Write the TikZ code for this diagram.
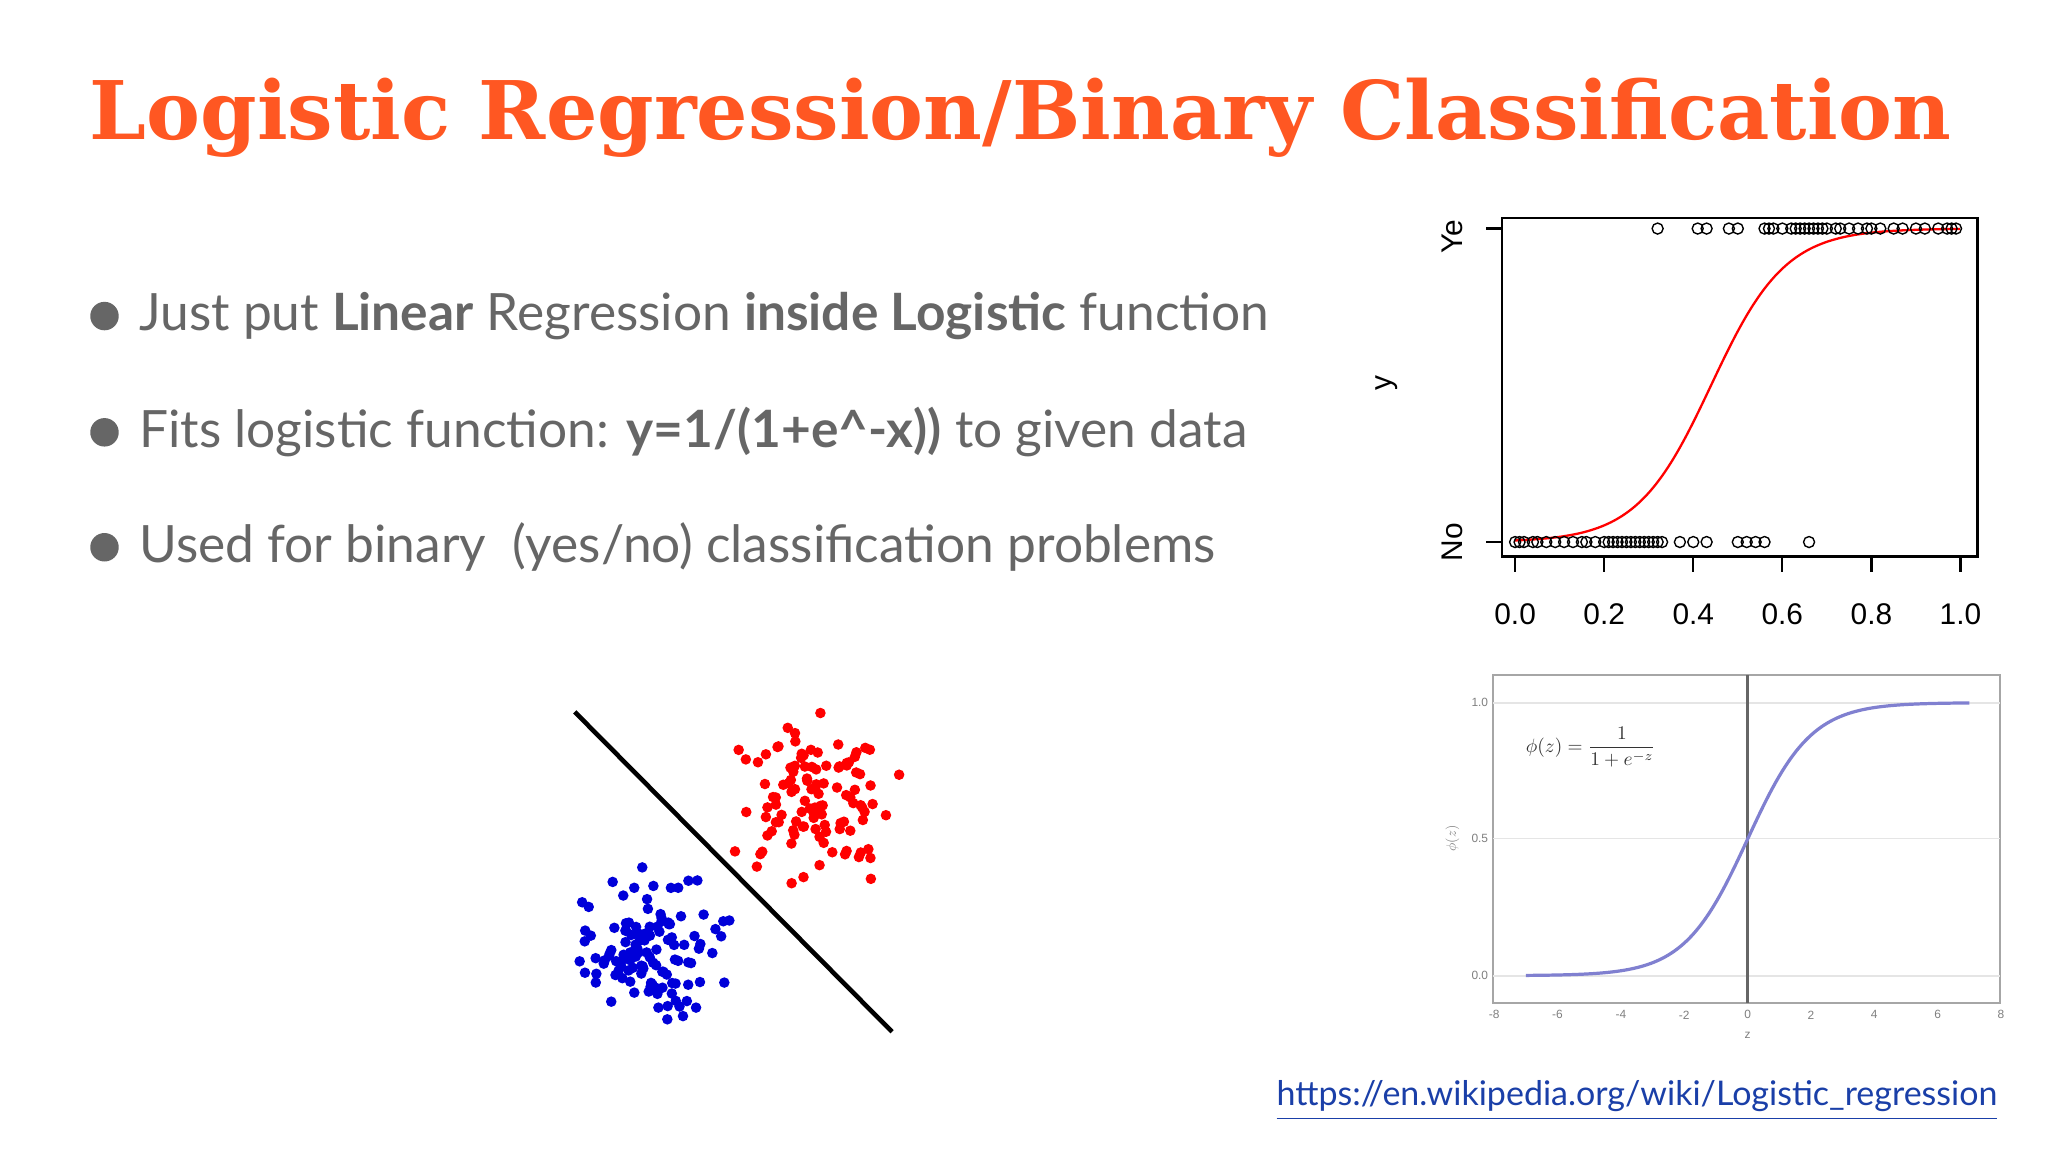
\documentclass[tikz,border=0pt]{standalone}
\usepackage{fontspec}
\setmainfont{Lato}
\newfontfamily\titlefont{DejaVu Serif}
\newfontfamily\plotfont{Liberation Sans}
\definecolor{titlec}{HTML}{FF5722}
\definecolor{bodyc}{HTML}{666666}
\definecolor{linkc}{HTML}{1A3FA8}
\definecolor{sigc}{HTML}{8080D0}
\tikzset{
  bul/.style={circle,fill=bodyc,inner sep=0pt,minimum size=6.2pt},
  btxt/.style={anchor=west,text=bodyc,font=\fontsize{11.2pt}{13pt}\selectfont,inner sep=0pt},
  dot/.style={circle,inner sep=0pt,minimum size=2.3pt},
  ring/.style={circle,draw=black,line width=0.3pt,inner sep=0pt,minimum size=2.4pt},
  tick/.style={font=\plotfont\fontsize{6.5pt}{8pt}\selectfont},
  tiny/.style={font=\plotfont\fontsize{2.6pt}{3pt}\selectfont,text=gray},
}
\begin{document}
\begin{tikzpicture}[x=0.01cm,y=-0.01cm]
\useasboundingbox[fill=white] (0,0) rectangle (1568,882);
% title
\node[anchor=west,inner sep=0pt,text=titlec] (title) at (68,90)
  {\resizebox{14.24cm}{!}{\titlefont\bfseries Logistic Regression/Binary Classification}};
% bullets
\node[bul] (b1) at (80,242) {};
\node[btxt] (t1) at (106,242) {Just put \textbf{Linear} Regression \textbf{inside Logistic} function};
\node[bul] (b2) at (80,331) {};
\node[btxt] (t2) at (106,331) {Fits logistic function: \textbf{y=1/(1+e\^{}-x))} to given data};
\node[bul] (b3) at (80,419) {};
\node[btxt] (t3) at (106,419) {Used for binary\ \ (yes/no) classification problems};
% top-right plot
\draw[line width=0.6pt] (1150,167) rectangle (1514,426);
\foreach \v/\l in {0/0.0,0.2/0.2,0.4/0.4,0.6/0.6,0.8/0.8,1/1.0}{
  \draw[line width=0.5pt] ({1160+341*\v},426) -- ({1160+341*\v},438);
  \node[tick] at ({1160+341*\v},470) {\l};
}
\draw[line width=0.5pt] (1138,175) -- (1150,175);
\draw[line width=0.5pt] (1138,415) -- (1150,415);
\node[tick,rotate=90] (ye) at (1112,181) {Ye};
\node[tick,rotate=90] (no) at (1112,415) {No};
\node[tick,rotate=90] (ylab) at (1062,293) {y};
\draw[red,line width=0.5pt,domain=0:1,samples=80,smooth] plot ({1160+341*\x},{415-240/(1+exp(-12*(\x-0.44)))});
\foreach \v in {0.32,0.41,0.43,0.48,0.5,0.56,0.57,0.58,0.6,0.62,0.63,0.64,0.65,0.66,0.67,0.68,0.69,0.7,0.72,0.73,0.75,0.77,0.79,0.8,0.82,0.85,0.87,0.9,0.92,0.95,0.97,0.98,0.99}
  \node[ring] at ({1160+341*\v},175) {};
\foreach \v in {0,0.01,0.02,0.04,0.05,0.07,0.09,0.11,0.13,0.15,0.16,0.18,0.2,0.21,0.22,0.23,0.24,0.25,0.26,0.27,0.28,0.29,0.3,0.31,0.32,0.33,0.37,0.4,0.43,0.5,0.52,0.54,0.56,0.66}
  \node[ring] at ({1160+341*\v},415) {};
% bottom-right plot
\draw[line width=0.5pt,gray!70] (1143,517) rectangle (1531,768);
\foreach \yy in {538,642,747} \draw[gray!20,line width=0.4pt] (1143,\yy) -- (1531,\yy);
\draw[gray!80!black,line width=0.6pt] (1338,517) -- (1338,768);
\foreach \z in {-8,-6,-4,-2,0,2,4,6,8} \node[tiny] at ({1338+24.25*\z},777) {\z};
\node[tiny] at (1133,538) {1.0};
\node[tiny] at (1133,642) {0.5};
\node[tiny] at (1133,747) {0.0};
\node[text=gray,rotate=90,inner sep=0pt] at (1112,642) {\scalebox{0.3}{$\phi(z)$}};
\node[tiny] at (1338,793) {z};
\draw[sigc,line width=0.7pt,domain=-7:7,samples=100,smooth] plot ({1338+24.25*\x},{747-209/(1+exp(-\x))});
\node[text=black!80,inner sep=0pt] (phi) at (1218,572) {\scalebox{0.42}{$\displaystyle\phi(z)=\frac{1}{1+e^{-z}}$}};
% scatter
\draw[line width=1pt] (440,545) -- (683,790);
\pgfmathsetseed{7}
\foreach \i in {1,...,110}{
  \pgfmathsetmacro{\dx}{28*(rand+rand+rand)}
  \pgfmathsetmacro{\dy}{28*(rand+rand+rand)}
  \node[dot,fill=red] at ({622+\dx},{607+\dy}) {};
}
\foreach \i in {1,...,120}{
  \pgfmathsetmacro{\dx}{26*(rand+rand+rand)}
  \pgfmathsetmacro{\dy}{26*(rand+rand+rand)}
  \node[dot,fill=blue!85!black] at ({500+\dx},{725+\dy}) {};
}
% link
\node[anchor=east,inner sep=0pt,text=linkc,font=\fontsize{7.4pt}{9pt}\selectfont] (link) at (1530,843) {\underline{https://en.wikipedia.org/wiki/Logistic\_regression}};
\end{tikzpicture}
\end{document}
